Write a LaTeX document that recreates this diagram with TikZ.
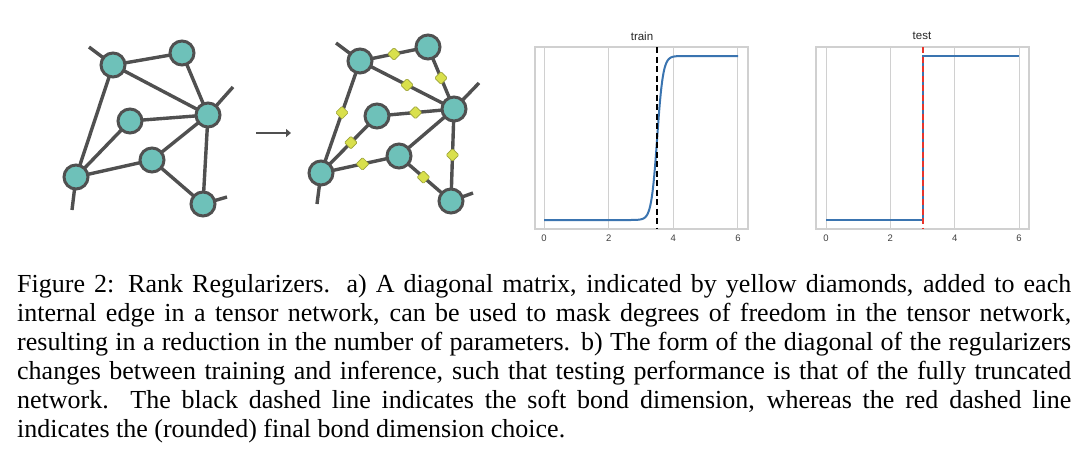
\documentclass[tikz,border=0pt]{standalone}
\usepackage{fontspec}
\setmainfont{Liberation Serif}
\newfontfamily\plotfont{Liberation Sans}
\usetikzlibrary{shapes.geometric,backgrounds,arrows.meta}
\definecolor{teal}{HTML}{6EC1B9}
\definecolor{edgegray}{HTML}{505050}
\definecolor{diafill}{HTML}{D9E04C}
\definecolor{diadraw}{HTML}{9DA33A}
\definecolor{gridgray}{HTML}{D0D0D0}
\definecolor{curveblue}{HTML}{3A74B0}
\definecolor{dashred}{HTML}{E8352B}
\tikzset{
  tn/.style={circle, draw=edgegray, line width=3pt, fill=teal, minimum size=24pt, inner sep=0pt},
  bond/.style={draw=edgegray, line width=3.4pt},
  diam/.style={diamond, draw=diadraw, line width=0.6pt, fill=diafill, minimum size=13pt, inner sep=0pt, rounded corners=1pt},
  gridl/.style={draw=gridgray, line width=1pt},
  frame/.style={draw=gridgray, line width=1.3pt},
  curve/.style={draw=curveblue, line width=2pt},
  tick/.style={font=\plotfont\fontsize{9.5}{10}\selectfont, text=black!75},
  ptitle/.style={font=\plotfont\fontsize{11.5}{12}\selectfont, text=black!85},
}
\begin{document}
\begin{tikzpicture}[x=1pt,y=-1pt]
\useasboundingbox (0,0) rectangle (1086,458);
\begin{scope}[on background layer]
\fill[white] (0,0) rectangle (1086,458);
\end{scope}

% ---------- network 1 ----------
\node[tn] (a1) at (113,65) {};
\node[tn] (b1) at (182,53) {};
\node[tn] (c1) at (208,115) {};
\node[tn] (d1) at (130,121) {};
\node[tn] (e1) at (152,160) {};
\node[tn] (f1) at (76,177) {};
\node[tn] (g1) at (203,204) {};
\coordinate (a1x) at (89,47);
\coordinate (c1x) at (233,87);
\coordinate (f1x) at (72,210);
\coordinate (g1x) at (227,197);
\begin{scope}[on background layer]
\path[bond] (a1.center) -- (b1.center);
\path[bond] (a1.center) -- (c1.center);
\path[bond] (b1.center) -- (c1.center);
\path[bond] (a1.center) -- (f1.center);
\path[bond] (d1.center) -- (c1.center);
\path[bond] (d1.center) -- (f1.center);
\path[bond] (f1.center) -- (e1.center);
\path[bond] (e1.center) -- (c1.center);
\path[bond] (e1.center) -- (g1.center);
\path[bond] (c1.center) -- (g1.center);
\path[bond] (a1.center) -- (a1x);
\path[bond] (c1.center) -- (c1x);
\path[bond] (f1.center) -- (f1x);
\path[bond] (g1.center) -- (g1x);
\end{scope}

% ---------- arrow ----------
\coordinate (arrs) at (256,133);
\coordinate (arre) at (291,133);
\draw[edgegray, line width=2.6pt, -{Triangle[length=5pt,width=8pt]}] (arrs) -- (arre);

% ---------- network 2 ----------
\node[tn] (a2) at (360,61) {};
\node[tn] (b2) at (428,47) {};
\node[tn] (c2) at (454,109) {};
\node[tn] (d2) at (377,116) {};
\node[tn] (e2) at (399,156) {};
\node[tn] (f2) at (321,173) {};
\node[tn] (g2) at (451,201) {};
\coordinate (a2x) at (336,43);
\coordinate (c2x) at (479,83);
\coordinate (f2x) at (317,204);
\coordinate (g2x) at (473,193);
\begin{scope}[on background layer]
\path[bond] (a2.center) -- (b2.center);
\path[bond] (a2.center) -- (c2.center);
\path[bond] (b2.center) -- (c2.center);
\path[bond] (a2.center) -- (f2.center);
\path[bond] (d2.center) -- (c2.center);
\path[bond] (d2.center) -- (f2.center);
\path[bond] (f2.center) -- (e2.center);
\path[bond] (e2.center) -- (c2.center);
\path[bond] (e2.center) -- (g2.center);
\path[bond] (c2.center) -- (g2.center);
\path[bond] (a2.center) -- (a2x);
\path[bond] (c2.center) -- (c2x);
\path[bond] (f2.center) -- (f2x);
\path[bond] (g2.center) -- (g2x);
\end{scope}
\path (a2) -- node[diam, pos=0.5] (dab) {} (b2);
\path (b2) -- node[diam, pos=0.5] (dbc) {} (c2);
\path (a2) -- node[diam, pos=0.5] (dac) {} (c2);
\path (a2) -- node[diam, pos=0.45] (daf) {} (f2);
\path (d2) -- node[diam, pos=0.5] (ddc) {} (c2);
\path (d2) -- node[diam, pos=0.45] (ddf) {} (f2);
\path (f2) -- node[diam, pos=0.55] (dfe) {} (e2);
\path (e2) -- node[diam, pos=0.45] (deg) {} (g2);
\path (c2) -- node[diam, pos=0.5] (dcg) {} (g2);

% ---------- train plot ----------
\foreach \v in {0,2,4,6} {
  \draw[gridl] ({544+32.33*\v},47) -- ({544+32.33*\v},229);
  \node[tick] at ({544+32.33*\v},238) {\v};
}
\draw[frame] (535,47) rectangle (748,229);
\node[ptitle] (ttrain) at (642,36) {train};
\draw[curve] (544,220) -- (631,220) -- plot[domain=2.7:4.3, samples=80] ({544+32.33*\x}, {220-164/(1+exp(-11*(\x-3.5)))}) -- (738,56);
\draw[black, line width=2pt, dash pattern=on 6pt off 3.5pt] (657,47) -- (657,229);

% ---------- test plot ----------
\foreach \v in {0,2,4,6} {
  \draw[gridl] ({826+32.17*\v},47) -- ({826+32.17*\v},229);
  \node[tick] at ({826+32.17*\v},238) {\v};
}
\draw[frame] (816,47) rectangle (1029,229);
\node[ptitle] (ttest) at (922,36) {test};
\draw[curve] (826,220) -- (922.5,220) -- (922.5,56) -- (1019,56);
\draw[dashred, line width=2pt, dash pattern=on 6pt off 3.5pt] (922.5,47) -- (922.5,229);

% ---------- caption ----------
\node[anchor=north west, inner sep=0pt, text width=1054pt, align=justify,
      font=\fontsize{26}{29}\selectfont] (cap) at (17,274) {%
Figure 2: Rank Regularizers. a) A diagonal matrix, indicated by yellow diamonds, added to each\linebreak
internal edge in a tensor network, can be used to mask degrees of freedom in the tensor network,\linebreak
resulting in a reduction in the number of parameters. b) The form of the diagonal of the regularizers\linebreak
changes between training and inference, such that testing performance is that of the fully truncated\linebreak
network. The black dashed line indicates the soft bond dimension, whereas the red dashed line\linebreak
indicates the (rounded) final bond dimension choice.};
\end{tikzpicture}
\end{document}
